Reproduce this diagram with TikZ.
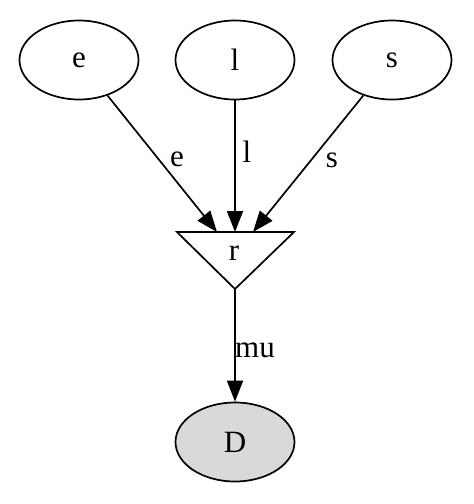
\documentclass[tikz,border=0pt]{standalone}
\usepackage{fontspec}
\setmainfont{Liberation Serif}
\usetikzlibrary{arrows.meta,shapes.geometric}
\tikzset{
  var/.style={draw, line width=1.7pt, ellipse, minimum width=119pt, minimum height=79pt, inner sep=0pt, font=\fontsize{31}{31}\selectfont},
  obs/.style={var, fill=black!15},
  edge/.style={line width=1.7pt, -{Triangle[length=21pt,width=16pt]}},
  lbl/.style={font=\fontsize{31}{31}\selectfont, inner sep=0pt}
}
\begin{document}
\begin{tikzpicture}[x=1pt,y=-1pt]
\useasboundingbox (0,0) rectangle (474,504);
\node[var] (e) at (79,60) {e};
\node[var] (l) at (235,60) {l};
\node[var] (s) at (392,60) {s};
\node[obs] (D) at (235,442) {D};
\coordinate (tl) at (177,232);
\coordinate (tr) at (294,232);
\coordinate (ta) at (235,289);
\draw[line width=1.7pt, line join=miter] (tl) -- (tr) -- (ta) -- cycle;
\node[lbl] (r) at (234,253) {r};
\coordinate (t1) at (217,232);
\coordinate (t2) at (235,232);
\coordinate (t3) at (253,232);
\draw[edge] (e) -- (t1);
\draw[edge] (l) -- (t2);
\draw[edge] (s) -- (t3);
\draw[edge] (ta) -- (D);
\node[lbl] (le) at (177,159) {e};
\node[lbl] (ll) at (247,152) {l};
\node[lbl] (ls) at (332,160) {s};
\node[lbl] (lmu) at (255,350) {mu};
\end{tikzpicture}
\end{document}
